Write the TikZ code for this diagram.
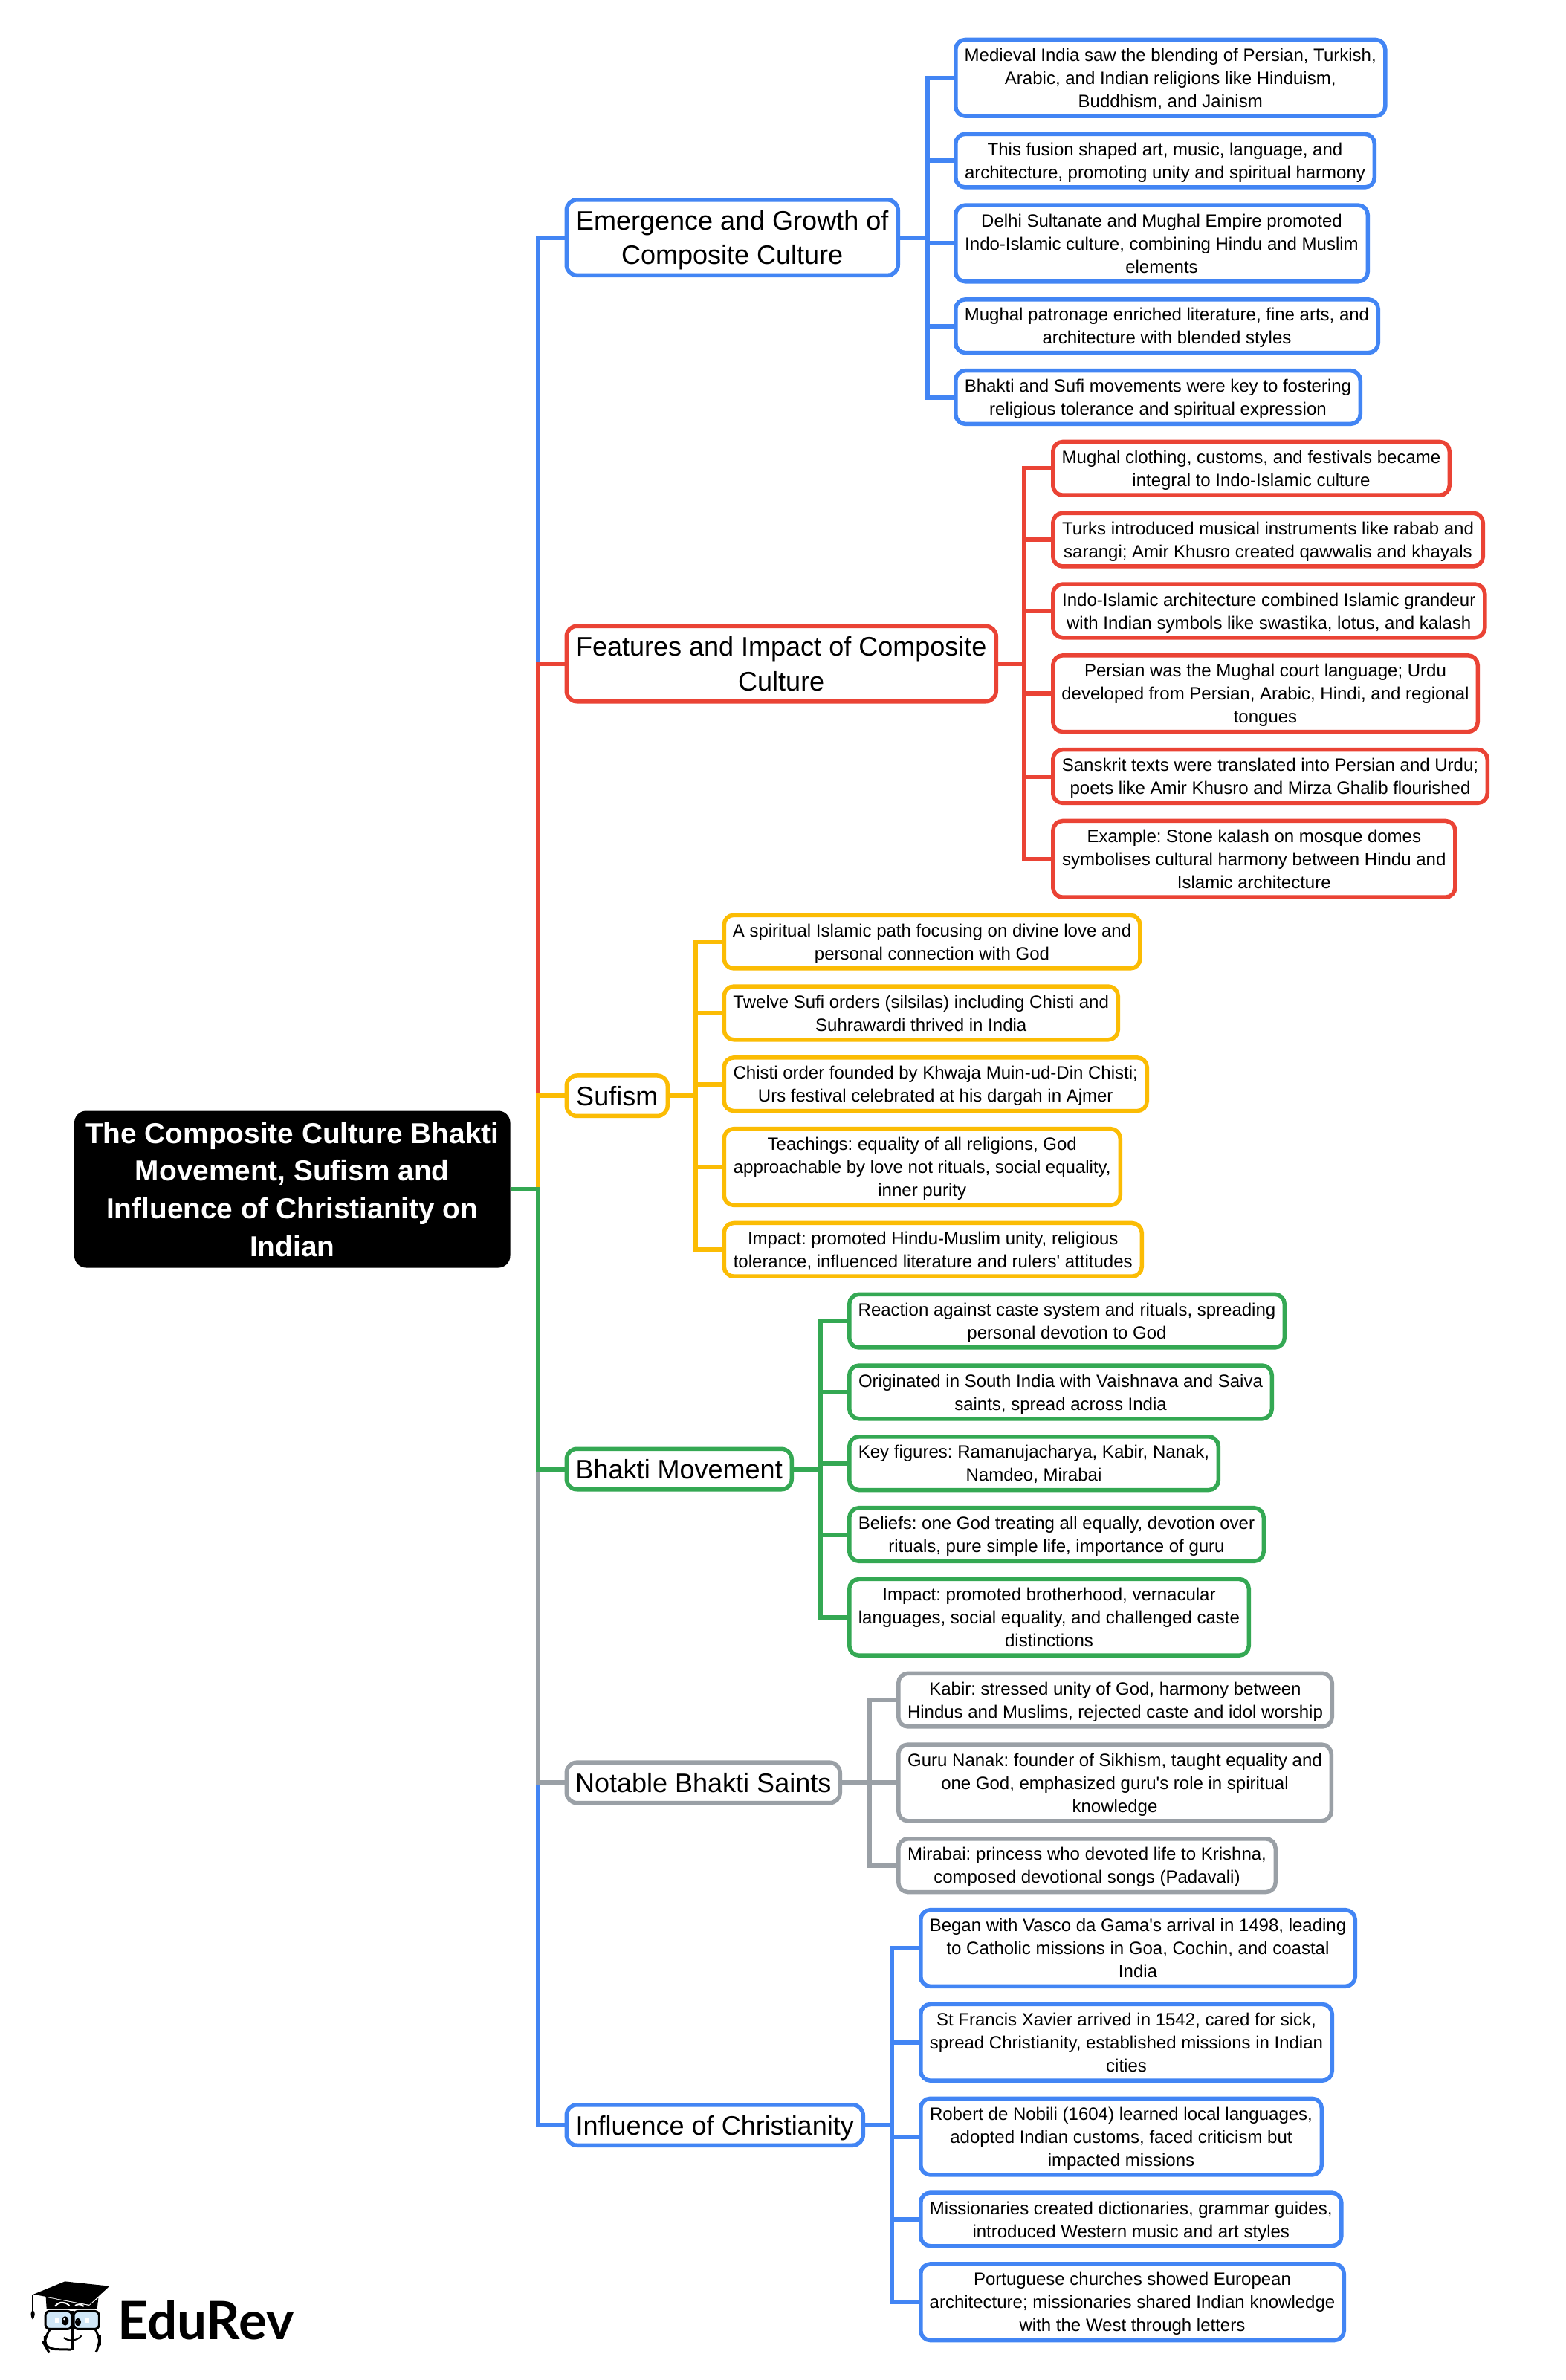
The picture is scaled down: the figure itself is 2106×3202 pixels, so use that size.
\documentclass[tikz,border=0pt]{standalone}
\usepackage{fontspec}
\newfontfamily\boxfont{Liberation Sans}
\newfontfamily\logofont{Lato}
\definecolor{gblue}{HTML}{4285F4}
\definecolor{gred}{HTML}{EA4335}
\definecolor{gyellow}{HTML}{FBBC04}
\definecolor{ggreen}{HTML}{34A853}
\definecolor{ggray}{HTML}{9AA0A6}
\definecolor{lens}{HTML}{CFE6F7}
\begin{document}
\begin{tikzpicture}[x=0.5pt, y=-0.5pt]
        % Define block styles
        \tikzstyle{mainbox} = [rectangle, fill=black, text=white, align=center, anchor=west, inner sep=0pt, outer sep=0pt, text depth=0pt,
            rounded corners=8pt, font=\boxfont\fontsize{19.4}{25.35}\selectfont\bfseries\frenchspacing, minimum width=293.25pt, minimum height=105.5pt]
        \tikzstyle{topic} = [rectangle, draw, fill=white, line width=2.75pt, align=center, anchor=west, inner sep=0pt, text depth=0pt,
            rounded corners=7pt, font=\boxfont\fontsize{18}{23.35}\selectfont\frenchspacing]
        \tikzstyle{point} = [rectangle, draw, fill=white, line width=2.75pt, align=center, anchor=west, inner sep=0pt, text depth=0pt,
            rounded corners=6.5pt, font=\boxfont\fontsize{12}{15.5}\selectfont\frenchspacing]
        \tikzstyle{oneline} = [minimum height=27.25pt]
        \tikzstyle{twotopic} = [minimum height=50.75pt]
        \tikzstyle{twoline} = [minimum height=35.85pt]
        \tikzstyle{threeline} = [minimum height=51.35pt]
        \tikzstyle{bluebox} = [draw=gblue]
        \tikzstyle{redbox} = [draw=gred]
        \tikzstyle{yellowbox} = [draw=gyellow]
        \tikzstyle{greenbox} = [draw=ggreen]
        \tikzstyle{graybox} = [draw=ggray]
        \tikzstyle{line} = [draw, line width=3pt]
        \tikzstyle{blueline} = [line, gblue]
        \tikzstyle{redline} = [line, gred]
        \tikzstyle{yellowline} = [line, gyellow]
        \tikzstyle{greenline} = [line, ggreen]
        \tikzstyle{grayline} = [line, ggray]

        \useasboundingbox (0,0) rectangle (2106,3202);

        % Bus lines
        \coordinate (trunk) at (723.7,0);
        \coordinate (emergebus) at (1247.6,0);
        \coordinate (featurebus) at (1378,0);
        \coordinate (sufismbus) at (936,0);
        \coordinate (bhaktibus) at (1103.6,0);
        \coordinate (saintbus) at (1170,0);
        \coordinate (christbus) at (1199.6,0);

        % Nodes
        \node [mainbox] (root) at (100,1600) {The Composite Culture Bhakti\\Movement, Sufism and\\Influence of Christianity on\\Indian};

        \node [topic, bluebox, twotopic, minimum width=223pt] (emerge) at (759.5,319.6) {Emergence and Growth of\\Composite Culture};
        \node [point, bluebox, threeline, minimum width=289pt] (emergea) at (1283,104.8) {Medieval India saw the blending of Persian, Turkish,\\Arabic, and Indian religions like Hinduism,\\Buddhism, and Jainism};
        \node [point, bluebox, twoline, minimum width=281.75pt] (emergeb) at (1283,216.1) {This fusion shaped art, music, language, and\\architecture, promoting unity and spiritual harmony};
        \node [point, bluebox, threeline, minimum width=277.25pt] (emergec) at (1283,327.4) {Delhi Sultanate and Mughal Empire promoted\\Indo-Islamic culture, combining Hindu and Muslim\\elements};
        \node [point, bluebox, twoline, minimum width=284.25pt] (emerged) at (1283,438.7) {Mughal patronage enriched literature, fine arts, and\\architecture with blended styles};
        \node [point, bluebox, twoline, minimum width=272.25pt] (emergee) at (1283,534.5) {Bhakti and Sufi movements were key to fostering\\religious tolerance and spiritual expression};

        \node [topic, redbox, twotopic, minimum width=289pt] (feature) at (759.5,893) {Features and Impact of Composite\\Culture};
        \node [point, redbox, twoline, minimum width=266.75pt] (featurea) at (1414,630.3) {Mughal clothing, customs, and festivals became\\integral to Indo-Islamic culture};
        \node [point, redbox, twoline, minimum width=289.25pt] (featureb) at (1414,726.1) {Turks introduced musical instruments like rabab and\\sarangi; Amir Khusro created qawwalis and khayals};
        \node [point, redbox, twoline, minimum width=290.5pt] (featurec) at (1414,821.9) {Indo-Islamic architecture combined Islamic grandeur\\with Indian symbols like swastika, lotus, and kalash};
        \node [point, redbox, threeline, minimum width=285.75pt] (featured) at (1414,933.2) {Persian was the Mughal court language; Urdu\\developed from Persian, Arabic, Hindi, and regional\\tongues};
        \node [point, redbox, twoline, minimum width=292.25pt] (featuree) at (1414,1044.5) {Sanskrit texts were translated into Persian and Urdu;\\poets like Amir Khusro and Mirza Ghalib flourished};
        \node [point, redbox, threeline, minimum width=270.55pt] (featuref) at (1414,1155.8) {Example: Stone kalash on mosque domes\\symbolises cultural harmony between Hindu and\\Islamic architecture};

        \node [topic, yellowbox, oneline, minimum width=68pt] (sufism) at (759.5,1474.2) {Sufism};
        \node [point, yellowbox, twoline, minimum width=279.8pt] (sufisma) at (971.5,1267.1) {A spiritual Islamic path focusing on divine love and\\personal connection with God};
        \node [point, yellowbox, twoline, minimum width=265pt] (sufismb) at (971.5,1362.9) {Twelve Sufi orders (silsilas) including Chisti and\\Suhrawardi thrived in India};
        \node [point, yellowbox, twoline, minimum width=284.5pt] (sufismc) at (971.5,1458.7) {Chisti order founded by Khwaja Muin-ud-Din Chisti;\\Urs festival celebrated at his dargah in Ajmer};
        \node [point, yellowbox, threeline, minimum width=266.5pt] (sufismd) at (971.5,1570) {Teachings: equality of all religions, God\\approachable by love not rituals, social equality,\\inner purity};
        \node [point, yellowbox, twoline, minimum width=281pt] (sufisme) at (971.5,1681.3) {Impact: promoted Hindu-Muslim unity, religious\\tolerance, influenced literature and rulers' attitudes};

        \node [topic, greenbox, oneline, minimum width=151.5pt] (bhakti) at (759.5,1976.5) {Bhakti Movement};
        \node [point, greenbox, twoline, minimum width=292.75pt] (bhaktia) at (1140,1777.1) {Reaction against caste system and rituals, spreading\\personal devotion to God};
        \node [point, greenbox, twoline, minimum width=284.25pt] (bhaktib) at (1140,1872.9) {Originated in South India with Vaishnava and Saiva\\saints, spread across India};
        \node [point, greenbox, twoline, minimum width=248.25pt] (bhaktic) at (1140,1968.7) {Key figures: Ramanujacharya, Kabir, Nanak,\\Namdeo, Mirabai};
        \node [point, greenbox, twoline, minimum width=278.75pt] (bhaktid) at (1140,2064.5) {Beliefs: one God treating all equally, devotion over\\rituals, pure simple life, importance of guru};
        \node [point, greenbox, threeline, minimum width=268.75pt] (bhaktie) at (1140,2175.8) {Impact: promoted brotherhood, vernacular\\languages, social equality, and challenged caste\\distinctions};

        \node [topic, graybox, oneline, minimum width=184pt] (saint) at (759.5,2398.4) {Notable Bhakti Saints};
        \node [point, graybox, twoline, minimum width=291.75pt] (sainta) at (1206,2287.1) {Kabir: stressed unity of God, harmony between\\Hindus and Muslims, rejected caste and idol worship};
        \node [point, graybox, threeline, minimum width=291.25pt] (saintb) at (1206,2398.4) {Guru Nanak: founder of Sikhism, taught equality and\\one God, emphasized guru's role in spiritual\\knowledge};
        \node [point, graybox, twoline, minimum width=253.75pt] (saintc) at (1206,2509.7) {Mirabai: princess who devoted life to Krishna,\\composed devotional songs (Padavali)};

        \node [topic, bluebox, oneline, minimum width=199.5pt] (christ) at (759.5,2859) {Influence of Christianity};
        \node [point, bluebox, threeline, minimum width=292.25pt] (christa) at (1236,2621) {Began with Vasco da Gama's arrival in 1498, leading\\to Catholic missions in Goa, Cochin, and coastal\\India};
        \node [point, bluebox, threeline, minimum width=276.75pt] (christb) at (1236,2747.8) {St Francis Xavier arrived in 1542, cared for sick,\\spread Christianity, established missions in Indian\\cities};
        \node [point, bluebox, threeline, minimum width=269.75pt] (christc) at (1236,2874.6) {Robert de Nobili (1604) learned local languages,\\adopted Indian customs, faced criticism but\\impacted missions};
        \node [point, bluebox, twoline, minimum width=283pt] (christd) at (1236,2985.9) {Missionaries created dictionaries, grammar guides,\\introduced Western music and art styles};
        \node [point, bluebox, threeline, minimum width=284.75pt] (christe) at (1236,3097.2) {Portuguese churches showed European\\architecture; missionaries shared Indian knowledge\\with the West through letters};

        % Arrows
        \path [blueline] (root.east) -| (trunk |- emerge.west) -- (emerge.west);
        \path [redline] (root.east) -| (trunk |- feature.west) -- (feature.west);
        \path [yellowline] (root.east) -| (trunk |- sufism.west) -- (sufism.west);
        \path [blueline] (root.east) -| (trunk |- christ.west) -- (christ.west);
        \path [grayline] (root.east) -| (trunk |- saint.west) -- (saint.west);
        \path [greenline] (root.east) -| (trunk |- bhakti.west) -- (bhakti.west);

        \path [blueline] (emerge.east) -| (emergebus |- emergea.west) -- (emergea.west);
        \path [blueline] (emerge.east) -| (emergebus |- emergeb.west) -- (emergeb.west);
        \path [blueline] (emerge.east) -| (emergebus |- emergec.west) -- (emergec.west);
        \path [blueline] (emerge.east) -| (emergebus |- emerged.west) -- (emerged.west);
        \path [blueline] (emerge.east) -| (emergebus |- emergee.west) -- (emergee.west);

        \path [redline] (feature.east) -| (featurebus |- featurea.west) -- (featurea.west);
        \path [redline] (feature.east) -| (featurebus |- featureb.west) -- (featureb.west);
        \path [redline] (feature.east) -| (featurebus |- featurec.west) -- (featurec.west);
        \path [redline] (feature.east) -| (featurebus |- featured.west) -- (featured.west);
        \path [redline] (feature.east) -| (featurebus |- featuree.west) -- (featuree.west);
        \path [redline] (feature.east) -| (featurebus |- featuref.west) -- (featuref.west);

        \path [yellowline] (sufism.east) -| (sufismbus |- sufisma.west) -- (sufisma.west);
        \path [yellowline] (sufism.east) -| (sufismbus |- sufismb.west) -- (sufismb.west);
        \path [yellowline] (sufism.east) -| (sufismbus |- sufismc.west) -- (sufismc.west);
        \path [yellowline] (sufism.east) -| (sufismbus |- sufismd.west) -- (sufismd.west);
        \path [yellowline] (sufism.east) -| (sufismbus |- sufisme.west) -- (sufisme.west);

        \path [greenline] (bhakti.east) -| (bhaktibus |- bhaktia.west) -- (bhaktia.west);
        \path [greenline] (bhakti.east) -| (bhaktibus |- bhaktib.west) -- (bhaktib.west);
        \path [greenline] (bhakti.east) -| (bhaktibus |- bhaktic.west) -- (bhaktic.west);
        \path [greenline] (bhakti.east) -| (bhaktibus |- bhaktid.west) -- (bhaktid.west);
        \path [greenline] (bhakti.east) -| (bhaktibus |- bhaktie.west) -- (bhaktie.west);

        \path [grayline] (saint.east) -| (saintbus |- sainta.west) -- (sainta.west);
        \path [grayline] (saint.east) -- (saintb.west);
        \path [grayline] (saint.east) -| (saintbus |- saintc.west) -- (saintc.west);

        \path [blueline] (christ.east) -| (christbus |- christa.west) -- (christa.west);
        \path [blueline] (christ.east) -| (christbus |- christb.west) -- (christb.west);
        \path [blueline] (christ.east) -| (christbus |- christc.west) -- (christc.west);
        \path [blueline] (christ.east) -| (christbus |- christd.west) -- (christd.west);
        \path [blueline] (christ.east) -| (christbus |- christe.west) -- (christe.west);

        % Logo
        \node [anchor=base west, inner sep=0pt, font=\fontsize{35.5}{36}\selectfont\logofont\bfseries] (logotext) at (158,3147.7) {EduRev};
        \begin{scope}[shift={(0,2950)}, x=0.1667pt, y=-0.1667pt]
            \fill (135,410) -- (262,358) -- (442,377) -- (360,452) -- cycle;
            \fill (185,422) -- (360,456) -- (397,425) -- (392,468) -- (188,468) -- cycle;
            \draw [white, line width=1pt] (222,458) .. controls (240,438) and (262,438) .. (280,456);
            \draw [white, line width=1pt] (303,456) .. controls (315,448) and (328,448) .. (338,459);
            \draw [line width=1pt] (132,412) -- (132,480);
            \fill (132,474) .. controls (120,482) and (124,500) .. (132,512) .. controls (140,500) and (146,482) .. (132,474);
            \draw [fill=lens, line width=1.5pt, rounded corners=3pt] (183,478) rectangle (290,550);
            \draw [fill=lens, line width=1.5pt, rounded corners=3pt] (297,478) rectangle (400,550);
            \fill (263,517) ellipse [x radius=14, y radius=19];
            \fill (315,522) ellipse [x radius=12, y radius=16];
            \fill [white] (259,510) circle [radius=4];
            \fill [white] (311,516) circle [radius=3];
            \fill [white] (222,508) rectangle (238,524);
            \fill [white] (345,508) rectangle (361,524);
            \draw [line width=1.5pt, rounded corners=6pt] (197,557) -- (181,575) -- (181,615) -- (190,631) -- (285,633);
            \draw [line width=1.5pt, rounded corners=6pt] (388,557) -- (403,580) -- (403,612) -- (392,634);
            \draw [line width=1.8pt] (293,476) -- (293,635);
            \draw [line width=1pt] (257,585) .. controls (275,600) and (310,600) .. (329,577);
        \end{scope}
    \end{tikzpicture}
\end{document}
